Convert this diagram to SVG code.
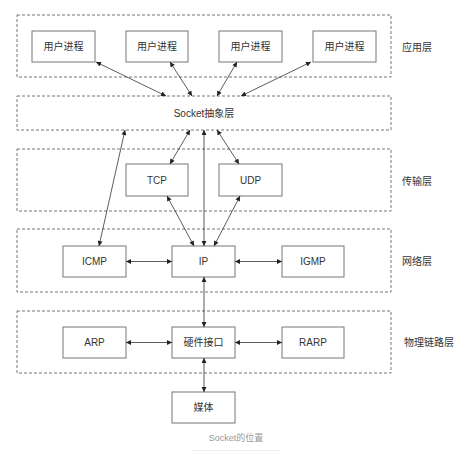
<svg xmlns="http://www.w3.org/2000/svg" width="474" height="454" viewBox="0 0 474 454">
<style>
.layer{fill:none;stroke:#777;stroke-width:1;stroke-dasharray:3,2}
.node rect{fill:#fff;stroke:#777;stroke-width:1}
text{font-family:"Liberation Sans","Noto Sans CJK SC",sans-serif;font-size:10px;fill:#333;text-anchor:middle;dominant-baseline:central}
.lbl{text-anchor:start}
.cap{font-size:9px;fill:#999}
.conn line{stroke:#333;stroke-width:0.8;marker-start:url(#a);marker-end:url(#a)}
</style>
<defs>
<marker id="a" viewBox="0 0 10 10" refX="10" refY="5" markerWidth="7" markerHeight="5" markerUnits="userSpaceOnUse" orient="auto-start-reverse">
<path d="M0,0L10,5L0,10z" fill="#222"/>
</marker>
</defs>
<rect width="474" height="454" fill="#fff"/>
<g id="layers">
<rect class="layer" x="17" y="15" width="374" height="62"/>
<rect class="layer" x="17" y="96" width="374" height="34"/>
<rect class="layer" x="17" y="149" width="374" height="62"/>
<rect class="layer" x="17" y="229" width="374" height="63"/>
<rect class="layer" x="17" y="311" width="374" height="62"/>
<text class="lbl" x="402" y="47">应用层</text>
<text x="204" y="113">Socket抽象层</text>
<text class="lbl" x="402" y="181">传输层</text>
<text class="lbl" x="402" y="261">网络层</text>
<text class="lbl" x="404" y="342">物理链路层</text>
</g>
<g id="p1" class="node"><rect x="32" y="31" width="63" height="31"/><text x="63.5" y="46.5">用户进程</text></g>
<g id="p2" class="node"><rect x="126" y="31" width="62" height="31"/><text x="157" y="46.5">用户进程</text></g>
<g id="p3" class="node"><rect x="219" y="31" width="63" height="31"/><text x="250.5" y="46.5">用户进程</text></g>
<g id="p4" class="node"><rect x="313" y="31" width="63" height="31"/><text x="344.5" y="46.5">用户进程</text></g>
<g id="tcp" class="node"><rect x="126" y="164" width="62" height="32"/><text x="157" y="180">TCP</text></g>
<g id="udp" class="node"><rect x="219" y="164" width="63" height="32"/><text x="250.5" y="180">UDP</text></g>
<g id="icmp" class="node"><rect x="63" y="246" width="63" height="31"/><text x="94.5" y="261.5">ICMP</text></g>
<g id="ip" class="node"><rect x="172" y="246" width="63" height="31"/><text x="203.5" y="261.5">IP</text></g>
<g id="igmp" class="node"><rect x="282" y="246" width="62" height="31"/><text x="313" y="261.5">IGMP</text></g>
<g id="arp" class="node"><rect x="63" y="327" width="63" height="31"/><text x="94.5" y="342.5">ARP</text></g>
<g id="hw" class="node"><rect x="172" y="327" width="63" height="31"/><text x="203.5" y="342.5">硬件接口</text></g>
<g id="rarp" class="node"><rect x="282" y="327" width="62" height="31"/><text x="313" y="342.5">RARP</text></g>
<g id="media" class="node"><rect x="172" y="392" width="63" height="31"/><text x="203.5" y="407.5">媒体</text></g>
<g id="connectors" class="conn">
<line x1="96" y1="62" x2="166" y2="96"/>
<line x1="170" y1="62" x2="192" y2="96"/>
<line x1="237" y1="62" x2="217" y2="96"/>
<line x1="311" y1="62" x2="241" y2="96"/>
<line x1="125" y1="130" x2="99" y2="246"/>
<line x1="190" y1="130" x2="170" y2="164"/>
<line x1="204" y1="130" x2="204" y2="246"/>
<line x1="217" y1="130" x2="239" y2="164"/>
<line x1="167" y1="196" x2="194" y2="246"/>
<line x1="240" y1="196" x2="214" y2="246"/>
<line x1="126" y1="261.5" x2="172" y2="261.5"/>
<line x1="235" y1="261.5" x2="282" y2="261.5"/>
<line x1="204" y1="277" x2="204" y2="327"/>
<line x1="126" y1="342.5" x2="172" y2="342.5"/>
<line x1="235" y1="342.5" x2="282" y2="342.5"/>
<line x1="204" y1="358" x2="204" y2="392"/>
</g>
<text class="cap" x="236" y="437.5">Socket的位置</text>
<line x1="192" y1="450.5" x2="280" y2="450.5" stroke="#eee" stroke-width="1"/>
</svg>
